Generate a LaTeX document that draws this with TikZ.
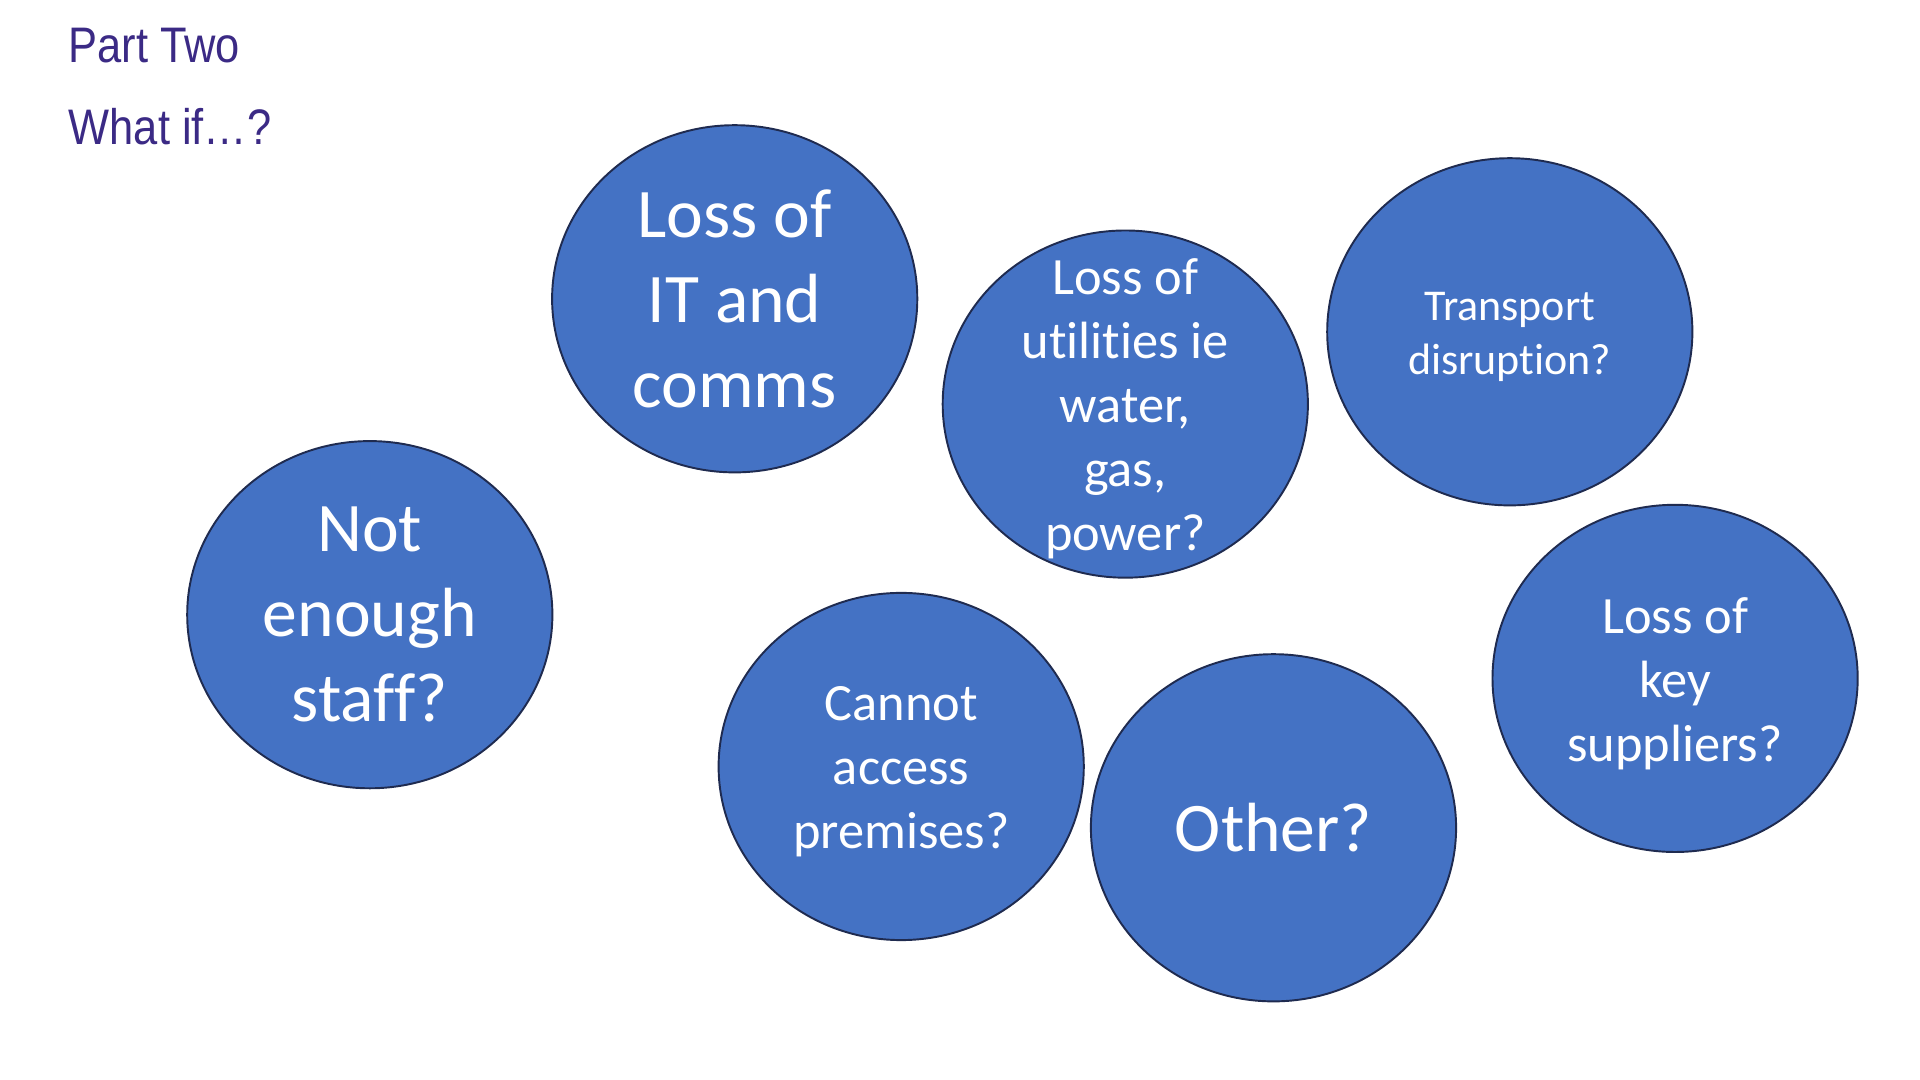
\documentclass[tikz,border=0pt]{standalone}
\usepackage{fontspec}
\setmainfont[RawFeature={-liga;-clig;-calt;-dlig}]{Carlito}
\newfontfamily\titlefont[FakeStretch=0.87]{Liberation Sans}
\usetikzlibrary{shapes.geometric}
\definecolor{bubfill}{HTML}{4472C4}
\definecolor{bubline}{HTML}{1F2B50}
\definecolor{titlecol}{HTML}{3B2A85}
\tikzset{
  bub/.style={ellipse, draw=bubline, line width=0.55pt, fill=bubfill,
    minimum width=3.65cm, minimum height=3.47cm, inner sep=0pt},
  bubtxt/.style={text=white, align=center, inner sep=0pt},
  bigtxt/.style={bubtxt, font=\fontsize{19.8}{24.2}\selectfont},
  midtxt/.style={bubtxt, yshift=-0.05cm, font=\fontsize{14.9}{18.2}\selectfont},
  smalltxt/.style={bubtxt, yshift=-0.05cm, font=\fontsize{12.5}{15.3}\selectfont},
  ttl/.style={anchor=base west, inner sep=0pt, text=titlecol,
    font=\titlefont\fontsize{14.2}{17}\selectfont}
}
\begin{document}
\begin{tikzpicture}[x=0.01cm,y=-0.01cm]
\useasboundingbox (0,0) rectangle (1920,1080);
\node[ttl] (t1) at (68,63) {Part Two};
\node[ttl] (t2) at (68,145) {What if\ldots?};
\node[bub, label={[bigtxt]center:Loss of\\IT and\\comms}] (it) at (734.7,298.8) {};
\node[bub, label={[midtxt]center:Loss of\\utilities ie\\water,\\gas,\\power?}] (util) at (1125.3,404.1) {};
\node[bub, label={[smalltxt]center:Transport\\disruption?}] (trans) at (1509.8,331.8) {};
\node[bub, label={[bigtxt]center:Not\\enough\\staff?}] (staff) at (369.8,614.7) {};
\node[bub, label={[midtxt]center:Cannot\\access\\premises?}] (access) at (901.2,766.5) {};
\node[bub, label={[bigtxt]center:Other?}] (other) at (1273.5,827.8) {};
\node[bub, label={[midtxt]center:Loss of\\key\\suppliers?}] (supp) at (1675.1,678.4) {};
\end{tikzpicture}
\end{document}
